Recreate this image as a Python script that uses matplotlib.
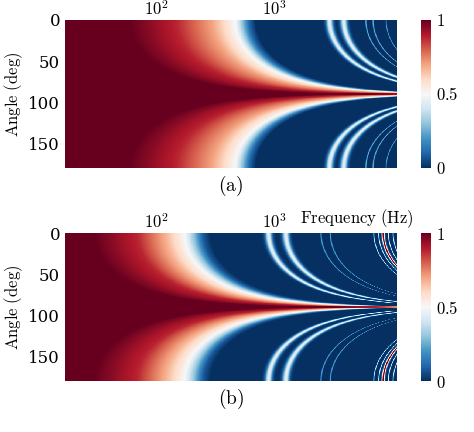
import numpy as np
import matplotlib
matplotlib.use('Agg')
from matplotlib import pyplot as plt

plt.rcParams['font.family'] = 'serif'
plt.rcParams['font.serif'] = ['DejaVu Serif']
plt.rcParams['mathtext.fontset'] = 'cm'

F_MIN, F_MAX = 17, 11000
ANG_TICKS = [0, 50, 100, 150]
CB_TICKS = [0, 0.5, 1]

# main lobe level vs u = f*|cos(angle)| (Hz)
MAIN_U_A = [1, 60, 150, 300, 470, 540, 620, 700, 1e6]
MAIN_V_A = [1.0, 1.0, 0.88, 0.7, 0.5, 0.3, 0.1, 0.0, 0.0]
MAIN_U_B = [1, 30, 70, 120, 175, 210, 250, 290, 1e6]
MAIN_V_B = [1.0, 1.0, 0.88, 0.68, 0.5, 0.3, 0.08, 0.0, 0.0]

# narrow bands: centre u (Hz), width (decades), level
BAND_U_A = [2950, 3900, 6000, 6900, 8900]
BAND_W_A = [0.02, 0.02, 0.004, 0.004, 0.003]
BAND_V_A = [0.45, 0.45, 0.25, 0.25, 0.22]
BAND_U_B = [900, 1260, 2500, 3000, 7000, 7700, 8400, 9300, 10200]
BAND_W_B = [0.02, 0.02, 0.004, 0.004, 0.003, 0.003, 0.008, 0.003, 0.003]
BAND_V_B = [0.45, 0.45, 0.22, 0.22, 0.4, 0.45, 1.0, 0.45, 0.4]


def field(main_u, main_v, band_u, band_w, band_v):
    f = np.logspace(np.log10(F_MIN), np.log10(F_MAX), 900)
    ang = np.linspace(0, 180, 500)
    F, A = np.meshgrid(f, ang)
    u = np.maximum(F * np.abs(np.cos(np.radians(A))), 1.0)
    z = np.interp(np.log10(u), np.log10(main_u), main_v)
    for c, w, v in zip(band_u, band_w, band_v):
        z = np.maximum(z, v * np.exp(-0.5 * ((np.log10(u) - np.log10(c)) / w) ** 2))
    return f, ang, z


fig = plt.figure(figsize=(4.74, 4.32), dpi=100)
panels = [
    (field(MAIN_U_A, MAIN_V_A, BAND_U_A, BAND_W_A, BAND_V_A), 20, '(a)'),
    (field(MAIN_U_B, MAIN_V_B, BAND_U_B, BAND_W_B, BAND_V_B), 233, '(b)'),
]
for (f, ang, z), top, lab in panels:
    ax = fig.add_axes([65 / 474, 1 - (top + 148) / 432, 332 / 474, 148 / 432])
    m = ax.pcolormesh(f, ang, z, cmap='RdBu_r', vmin=0, vmax=1, shading='auto', rasterized=True)
    ax.set_xscale('log')
    ax.set_xlim(F_MIN, F_MAX)
    ax.set_ylim(180, 0)
    ax.set_yticks(ANG_TICKS)
    ax.xaxis.tick_top()
    ax.set_xticks([100, 1000])
    ax.set_xticklabels([r'$10^2$', r'$10^3$'])
    ax.minorticks_off()
    ax.tick_params(which='both', direction='in', length=0, labelsize=12)
    ax.tick_params(axis='x', pad=1)
    ax.set_ylabel(r'$\mathrm{Angle\ (deg)}$', fontsize=12, labelpad=2)
    ax.text(0.5, -0.04, r'$\mathrm{' + lab + '}$', transform=ax.transAxes,
            ha='center', va='top', fontsize=14)
    for s in ax.spines.values():
        s.set_visible(False)
    cax = fig.add_axes([421 / 474, 1 - (top + 148) / 432, 10 / 474, 148 / 432])
    cb = fig.colorbar(m, cax=cax, ticks=CB_TICKS)
    cb.ax.set_yticklabels(['$0$', '$0.5$', '$1$'])
    cb.ax.tick_params(length=0, labelsize=12)
    cb.outline.set_visible(False)
    if lab == '(b)':
        ax.text(0.88, 1.1, r'$\mathrm{Frequency\ (Hz)}$', transform=ax.transAxes,
                ha='center', va='center', fontsize=12)

fig.savefig('out.png', dpi=100)
